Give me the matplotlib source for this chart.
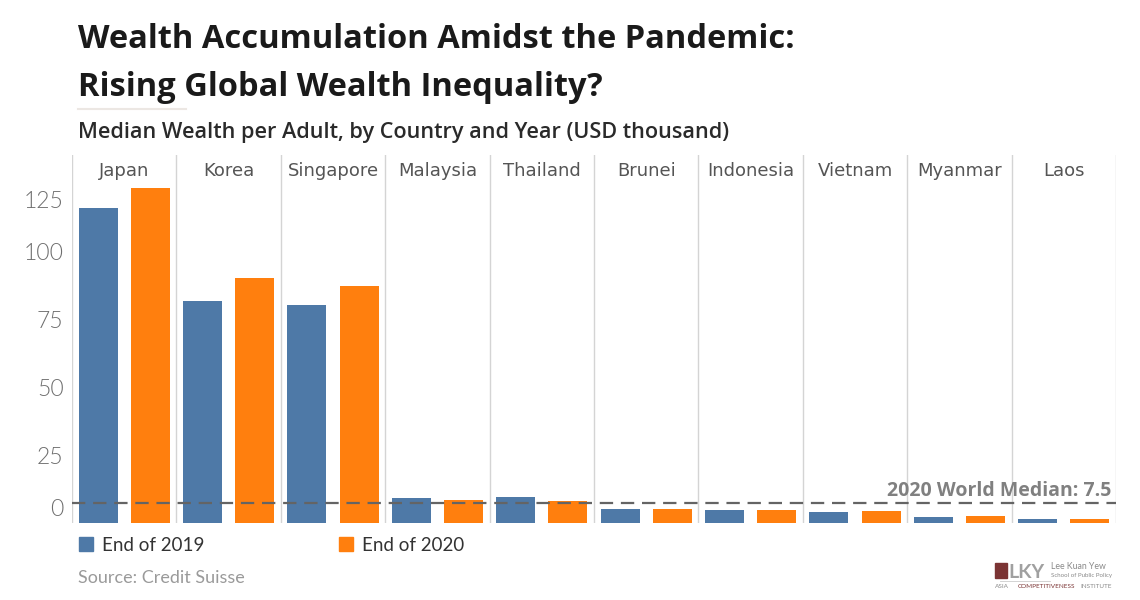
import matplotlib
matplotlib.use("Agg")
import matplotlib.pyplot as plt
from matplotlib.transforms import ScaledTranslation, blended_transform_factory
from matplotlib.patches import Rectangle
from matplotlib.lines import Line2D

countries = ["Japan", "Korea", "Singapore", "Malaysia", "Thailand",
             "Brunei", "Indonesia", "Vietnam", "Myanmar", "Laos"]
wealth_2019 = [115.8, 81.6, 80.1, 9.2, 9.6, 5.1, 4.8, 4.0, 2.2, 1.5]
wealth_2020 = [123.2, 90.1, 87.1, 8.5, 8.1, 5.1, 4.8, 4.4, 2.6, 1.5]
series_labels = ["End of 2019", "End of 2020"]
yticks = [0, 25, 50, 75, 100, 125]
world_median_2020 = 7.5

BLUE = "#4E79A7"
ORANGE = "#FF7F0E"

W, H = 1140, 600
fig = plt.figure(figsize=(W / 100, H / 100), dpi=100)

def fx(px):
    return px / W

def fy(py):
    return 1 - py / H

ax = fig.add_axes([fx(72), fy(523), fx(1116) - fx(72), fy(155) - fy(523)])
n = len(countries)
xs = list(range(n))
ax.bar([x + 0.25 for x in xs], wealth_2019, width=0.375, color=BLUE, zorder=2)
ax.bar([x + 0.75 for x in xs], wealth_2020, width=0.375, color=ORANGE, zorder=2)
ax.set_xlim(0, n)
ax.set_ylim(0, 368 / 2.72)

for i in range(n + 1):
    ax.axvline(i, color="#d4d4d4", lw=1.0, zorder=1)

for s in ax.spines.values():
    s.set_visible(False)
ax.set_xticks([])
ax.set_yticks(yticks)
ax.set_yticklabels([str(t) for t in yticks], fontfamily="Lato", fontweight=300,
                   fontsize=16.5, color="#6e6e6e")
ax.tick_params(axis="y", length=0, pad=6)
labels = ax.get_yticklabels()
labels[0].set_transform(labels[0].get_transform() + ScaledTranslation(0, 0.16, fig.dpi_scale_trans))
labels[-1].set_transform(labels[-1].get_transform() + ScaledTranslation(0, -0.16, fig.dpi_scale_trans))

trans = blended_transform_factory(ax.transData, ax.transAxes)
for i, c in enumerate(countries):
    ax.text(i + 0.5, (523 - 176) / 368, c, transform=trans, ha="center", va="baseline",
            fontfamily="DejaVu Sans", fontsize=13, color="#555555")

ax.axhline(world_median_2020, color="#646464", lw=1.6, ls=(0, (6, 3.5)), zorder=3)
ax.text(9.96, (523 - 496) / 2.72, f"2020 World Median: {world_median_2020}",
        ha="right", va="baseline", fontfamily="Open Sans", fontweight="bold",
        fontsize=14, color="#808080")

# Titles
fig.text(fx(78), fy(48), "Wealth Accumulation Amidst the Pandemic:", ha="left", va="baseline",
         fontfamily="Open Sans", fontweight="bold", fontsize=23.5, color="#1a1a1a")
fig.text(fx(78), fy(96), "Rising Global Wealth Inequality?", ha="left", va="baseline",
         fontfamily="Open Sans", fontweight="bold", fontsize=23.5, color="#1a1a1a")
fig.add_artist(Line2D([fx(78), fx(186)], [fy(108.5), fy(108.5)], color="#ece7e3", lw=1.5))
fig.text(fx(78), fy(138), "Median Wealth per Adult, by Country and Year (USD thousand)",
         ha="left", va="baseline", fontfamily="Open Sans", fontweight="semibold",
         fontsize=15.6, color="#2a2a2a")

# Legend
for px, col, lab in [(79, BLUE, series_labels[0]), (339, ORANGE, series_labels[1])]:
    fig.add_artist(Rectangle((fx(px), fy(551)), fx(14), 14 / H, color=col,
                             transform=fig.transFigure))
    fig.text(fx(px + 22.5), fy(551), lab, ha="left", va="baseline", fontfamily="Lato",
             fontsize=13.5, color="#333333")

fig.text(fx(78), fy(583), "Source: Credit Suisse", ha="left", va="baseline",
         fontfamily="Lato", fontsize=13, color="#9a9a9a")

# Logo approximation
fig.add_artist(Rectangle((fx(995), fy(578)), fx(12), 15 / H, color="#7b3434",
                         transform=fig.transFigure))
fig.text(fx(1008), fy(578), "LKY", ha="left", va="baseline", fontfamily="Lato",
         fontweight="bold", fontsize=14, color="#a0a0a0")
fig.text(fx(1051), fy(569), "Lee Kuan Yew", ha="left", va="baseline", fontfamily="Lato",
         fontsize=6.3, color="#8a8a8a")
fig.text(fx(1051), fy(577), "School of Public Policy", ha="left", va="baseline",
         fontfamily="Lato", fontsize=4.4, color="#8a8a8a")
fig.add_artist(Line2D([fx(1000), fx(1050)], [fy(580.5), fy(580.5)], color="#cccccc", lw=0.6))
fig.text(fx(995), fy(586), "ASIA", ha="left", va="center", fontfamily="Lato",
         fontsize=4.6, color="#8a8a8a")
fig.text(fx(1046), fy(586), "COMPETITIVENESS", ha="center", va="center", fontfamily="Lato",
         fontsize=4.6, color="#7b3434")
fig.text(fx(1112), fy(586), "INSTITUTE", ha="right", va="center", fontfamily="Lato",
         fontsize=4.6, color="#8a8a8a")

fig.savefig("out.png", dpi=100)
